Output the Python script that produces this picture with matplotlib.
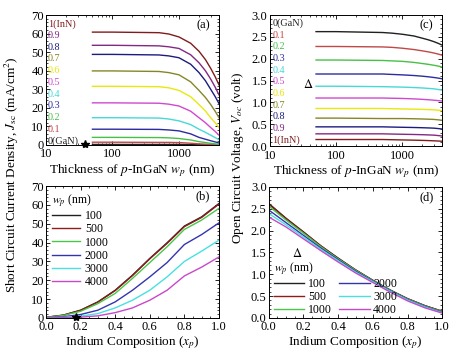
import numpy as np
import matplotlib
matplotlib.use('Agg')
import matplotlib.pyplot as plt
from matplotlib.ticker import MultipleLocator, LogLocator, NullFormatter

plt.rcParams['font.family'] = 'Liberation Serif'
plt.rcParams['mathtext.fontset'] = 'stix'
plt.rcParams['xtick.direction'] = 'in'
plt.rcParams['ytick.direction'] = 'in'

# ---- data ----
compositions = [0.0, 0.1, 0.2, 0.3, 0.4, 0.5, 0.6, 0.7, 0.8, 0.9, 1.0]
comp_labels = ['0(GaN)', '0.1', '0.2', '0.3', '0.4', '0.5', '0.6', '0.7', '0.8', '0.9', '1(InN)']
comp_colors = ['#202020', '#c04848', '#48c048', '#2c2ca0', '#48d8d8', '#d048d0',
               '#e8e810', '#868628', '#1c1c80', '#842884', '#801c1c']

# thicknesses shown in the legends of (b) and (d)
thickness = [100, 500, 1000, 2000, 3000, 4000]
thick_colors = ['#202020', '#901c1c', '#48c848', '#3434b0', '#48e0e0', '#c848c8']

# all thicknesses read along the curves of (a) and (c)
thickness_all = [50, 100, 500, 700, 1000, 1500, 2000, 2500, 3000, 3500, 4000]

# Jsc (mA/cm^2) per thickness, indexed by composition
jsc = {
    50:   [0.3, 1.5, 4.1, 8.5, 14.7, 22.7, 31.6, 39.9, 48.8, 53.7, 60.8],
    100:  [0.3, 1.5, 4.1, 8.5, 14.7, 22.7, 31.6, 39.9, 48.8, 53.7, 60.8],
    500:  [0.3, 1.4, 4.0, 8.4, 14.5, 22.5, 31.4, 39.6, 48.5, 53.4, 60.5],
    700:  [0.3, 1.4, 3.85, 8.1, 14.0, 22.0, 30.8, 39.0, 48.0, 52.9, 59.8],
    1000: [0.3, 1.3, 3.5, 7.6, 13.0, 21.0, 29.4, 37.8, 47.0, 52.0, 58.2],
    1500: [0.2, 0.95, 2.7, 6.0, 11.0, 18.2, 26.0, 34.0, 43.5, 48.6, 54.8],
    2000: [0.1, 0.6, 1.8, 4.1, 8.5, 14.7, 21.8, 29.4, 39.0, 44.3, 50.5],
    2500: [0.08, 0.45, 1.3, 3.1, 6.8, 12.0, 18.3, 25.6, 34.6, 40.0, 46.0],
    3000: [0.05, 0.3, 0.9, 2.3, 5.3, 9.4, 14.7, 21.8, 30.0, 35.5, 41.3],
    3500: [0.02, 0.2, 0.6, 1.65, 4.0, 7.3, 12.0, 18.2, 26.1, 31.2, 36.8],
    4000: [0.0, 0.1, 0.4, 1.1, 2.8, 5.3, 9.4, 14.7, 22.3, 27.0, 32.4],
}
# Voc (volt) per thickness, indexed by composition
voc = {
    50:   [2.62, 2.28, 1.97, 1.65, 1.37, 1.10, 0.86, 0.64, 0.44, 0.28, 0.15],
    100:  [2.62, 2.28, 1.97, 1.65, 1.37, 1.10, 0.86, 0.64, 0.44, 0.28, 0.15],
    500:  [2.60, 2.27, 1.96, 1.65, 1.36, 1.10, 0.86, 0.63, 0.44, 0.28, 0.15],
    700:  [2.585, 2.26, 1.95, 1.64, 1.355, 1.095, 0.855, 0.63, 0.435, 0.275, 0.145],
    1000: [2.56, 2.24, 1.94, 1.63, 1.35, 1.09, 0.85, 0.63, 0.43, 0.27, 0.14],
    1500: [2.52, 2.21, 1.915, 1.615, 1.34, 1.08, 0.845, 0.625, 0.425, 0.265, 0.135],
    2000: [2.47, 2.18, 1.89, 1.60, 1.33, 1.07, 0.84, 0.62, 0.42, 0.26, 0.13],
    2500: [2.43, 2.155, 1.87, 1.585, 1.32, 1.06, 0.835, 0.615, 0.415, 0.255, 0.125],
    3000: [2.39, 2.13, 1.85, 1.57, 1.31, 1.05, 0.83, 0.61, 0.41, 0.25, 0.12],
    3500: [2.35, 2.105, 1.83, 1.555, 1.295, 1.04, 0.82, 0.60, 0.40, 0.24, 0.115],
    4000: [2.31, 2.08, 1.81, 1.54, 1.28, 1.03, 0.81, 0.59, 0.39, 0.23, 0.11],
}

star_a = (38, 0.3)
star_b = (0.175, 0.6)
delta_c = (38, 1.40)
delta_d = (0.165, 1.47)

fig = plt.figure(figsize=(4.74, 3.58), dpi=100)
ax_a = fig.add_axes([0.097, 0.595, 0.365, 0.363])
ax_c = fig.add_axes([0.569, 0.592, 0.364, 0.366])
ax_b = fig.add_axes([0.097, 0.112, 0.365, 0.368])
ax_d = fig.add_axes([0.567, 0.112, 0.366, 0.366])

tfs = 9
lfs = 9.5
sfs = 7.3

def style(ax):
    ax.tick_params(which='both', top=True, right=True, labelsize=tfs)
    ax.tick_params(axis='y', pad=1.5)
    ax.tick_params(axis='x', pad=2.5)
    ax.tick_params(which='major', length=3, width=0.6)
    ax.tick_params(which='minor', length=1.5, width=0.5)
    for s in ax.spines.values():
        s.set_linewidth(0.7)

# (a) Jsc vs thickness
for i, c in enumerate(compositions):
    ys = [jsc[w][i] for w in thickness_all]
    ax_a.plot(thickness_all, ys, color=comp_colors[i], lw=1.0)
ax_a.plot(*star_a, marker='*', color='black', ms=6, clip_on=False)
ax_a.set_xscale('log')
ax_a.set_xlim(10, 4000)
ax_a.set_ylim(0, 70)
ax_a.yaxis.set_major_locator(MultipleLocator(10))
ax_a.yaxis.set_minor_locator(MultipleLocator(2))
ax_a.xaxis.set_minor_locator(LogLocator(subs=np.arange(2, 10)))
ax_a.xaxis.set_minor_formatter(NullFormatter())
ax_a.set_xticks([10, 100, 1000])
ax_a.set_xticklabels(['10', '100', '1000'])
ax_a.set_xlabel(r'Thickness of $p$-InGaN $w_p$ (nm)', fontsize=lfs, labelpad=1)
for i in range(len(compositions)):
    ax_a.text(0.012, 0.030 + 0.0903 * i, comp_labels[i], color=comp_colors[i],
              transform=ax_a.transAxes, fontsize=sfs, va='center', ha='left')
ax_a.text(0.95, 0.92, '(a)', transform=ax_a.transAxes, ha='right', va='center', fontsize=9)
style(ax_a)

# (c) Voc vs thickness
for i, c in enumerate(compositions):
    ys = [voc[w][i] for w in thickness_all]
    ax_c.plot(thickness_all, ys, color=comp_colors[i], lw=1.0)
ax_c.text(delta_c[0], delta_c[1], r'$\Delta$', ha='center', va='center', fontsize=9)
ax_c.set_xscale('log')
ax_c.set_xlim(10, 4000)
ax_c.set_ylim(0, 3.0)
ax_c.yaxis.set_major_locator(MultipleLocator(0.5))
ax_c.yaxis.set_minor_locator(MultipleLocator(0.1))
ax_c.xaxis.set_minor_locator(LogLocator(subs=np.arange(2, 10)))
ax_c.xaxis.set_minor_formatter(NullFormatter())
ax_c.set_xticks([10, 100, 1000])
ax_c.set_xticklabels(['10', '100', '1000'])
ax_c.set_yticks([0, 0.5, 1.0, 1.5, 2.0, 2.5, 3.0])
ax_c.set_yticklabels(['0.0', '0.5', '1.0', '1.5', '2.0', '2.5', '3.0'])
ax_c.set_xlabel(r'Thickness of $p$-InGaN $w_p$ (nm)', fontsize=lfs, labelpad=1)
for i in range(len(compositions)):
    ax_c.text(0.015, 0.936 - 0.089 * i, comp_labels[i], color=comp_colors[i],
              transform=ax_c.transAxes, fontsize=sfs, va='center', ha='left')
ax_c.text(0.95, 0.92, '(c)', transform=ax_c.transAxes, ha='right', va='center', fontsize=9)
style(ax_c)

# (b) Jsc vs composition
for w, col in zip(thickness, thick_colors):
    ax_b.plot(compositions, jsc[w], color=col, lw=1.0, label=str(w))
ax_b.plot(*star_b, marker='*', color='black', ms=6, clip_on=False)
ax_b.set_xlim(0, 1)
ax_b.set_ylim(0, 70)
ax_b.xaxis.set_minor_locator(MultipleLocator(0.05))
ax_b.yaxis.set_major_locator(MultipleLocator(10))
ax_b.yaxis.set_minor_locator(MultipleLocator(2))
ax_b.set_xticks([0, 0.2, 0.4, 0.6, 0.8, 1.0])
ax_b.set_xticklabels(['0.0', '0.2', '0.4', '0.6', '0.8', '1.0'])
ax_b.set_xlabel(r'Indium Composition ($x_p$)', fontsize=lfs, labelpad=1)
leg = ax_b.legend(loc='upper left', title=r'$w_p$ (nm)', fontsize=8.5, title_fontsize=8.5,
                  frameon=False, handlelength=2.4, handletextpad=0.4, labelspacing=0.1,
                  borderaxespad=0.2, borderpad=0.3)
leg._legend_box.align = 'left'
ax_b.text(0.95, 0.92, '(b)', transform=ax_b.transAxes, ha='right', va='center', fontsize=9)
style(ax_b)

# (d) Voc vs composition
for w, col in zip(thickness, thick_colors):
    ax_d.plot(compositions, voc[w], color=col, lw=1.0, label=str(w))
ax_d.text(delta_d[0], delta_d[1], r'$\Delta$', ha='center', va='center', fontsize=9)
ax_d.set_xlim(0, 1)
ax_d.set_ylim(0, 3.0)
ax_d.xaxis.set_minor_locator(MultipleLocator(0.05))
ax_d.yaxis.set_minor_locator(MultipleLocator(0.1))
ax_d.set_xticks([0, 0.2, 0.4, 0.6, 0.8, 1.0])
ax_d.set_xticklabels(['0.0', '0.2', '0.4', '0.6', '0.8', '1.0'])
ax_d.set_yticks([0, 0.5, 1.0, 1.5, 2.0, 2.5, 3.0])
ax_d.set_yticklabels(['0.0', '0.5', '1.0', '1.5', '2.0', '2.5', '3.0'])
ax_d.set_xlabel(r'Indium Composition ($x_p$)', fontsize=lfs, labelpad=1)
leg = ax_d.legend(loc='lower left', bbox_to_anchor=(0.015, -0.005), title=r'$w_p$ (nm)',
                  fontsize=8.5, title_fontsize=8.5, frameon=False, ncol=2,
                  handlelength=2.6, handletextpad=0.3, labelspacing=0.1,
                  columnspacing=0.6, borderaxespad=0.0, borderpad=0.2)
leg._legend_box.align = 'left'
ax_d.text(0.95, 0.92, '(d)', transform=ax_d.transAxes, ha='right', va='center', fontsize=9)
style(ax_d)

fig.text(0.025, 0.511, r'Short Circuit Current Density, $J_{\rm sc}$ (mA/cm$^2$)',
         rotation=90, ha='center', va='center', fontsize=lfs)
fig.text(0.503, 0.560, r'Open Circuit Voltage, $V_{oc}$ (volt)',
         rotation=90, ha='center', va='center', fontsize=lfs)

fig.savefig('out.png', dpi=100)
